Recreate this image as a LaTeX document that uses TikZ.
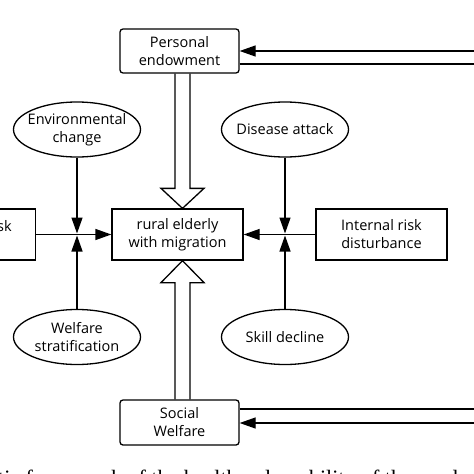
\documentclass[tikz,border=0pt]{standalone}
\usepackage{fontspec}
\newfontfamily\diagfont{Open Sans}
\newfontfamily\capfont{Liberation Serif}
\usetikzlibrary{arrows.meta,shapes.geometric,positioning,calc}
\tikzset{
  box/.style={draw, rectangle, minimum width=131pt, minimum height=51pt,
    align=center, inner sep=2pt},
  rbox/.style={box, rounded corners=3pt, minimum width=119pt, minimum height=44pt},
  oval/.style={draw, ellipse, minimum width=127pt, minimum height=55pt,
    align=center, inner xsep=-6pt, inner ysep=0pt},
  arr/.style={-{Triangle[length=16pt,width=11pt]}},
  hollow/.style={line join=miter}
}
\begin{document}
\begin{tikzpicture}[x=1pt,y=-1pt,line width=1.3pt,
    every node/.style={font=\diagfont\fontsize{14.5}{18}\selectfont}]
            \clip (0,0) rectangle (474,474);
            % boxes
            \node[rbox] (pe) at (179.5,51) {Personal\\endowment};
            \node[rbox, minimum height=45pt] (sw) at (179.5,422.5) {Social\\Welfare};
            \node[box] (ce) at (177.5,234.5) {rural elderly\\with migration};
            \node[box] (er) at (-30,234.5) {External risk\\\mbox{}};
            \node[box] (ir) at (381.5,234.5) {Internal risk\\disturbance};
            % ellipses
            \node[oval] (env) at (77,129.5) {Environmental\\change};
            \node[oval] (dis) at (285,129.5) {Disease attack};
            \node[oval] (wel) at (77,337) {Welfare\\stratification};
            \node[oval] (ski) at (285,337) {Skill decline};
            % junctions
            \coordinate (jl) at (env |- ce);
            \coordinate (jr) at (dis |- ce);
            % risk arrows
            \draw[arr] (er) -- (ce);
            \draw[arr] (ir) -- (ce);
            \draw[arr, shorten >=1pt] (env) -- (jl);
            \draw[arr, shorten >=1pt] (wel) -- (jl);
            \draw[arr, shorten >=1pt] (dis) -- (jr);
            \draw[arr, shorten >=1pt] (ski) -- (jr);
            % hollow arrows
            \coordinate (ta) at ($(ce.north)+(5,0)$);
            \coordinate (tb) at ($(ce.south)+(5,0)$);
            \draw[hollow] ($(pe.south)+(-4.5,0)$) -- ($(ta)+(-7.5,-20)$)
                  -- ($(ta)+(-21.5,-20)$) -- (ta) -- ($(ta)+(21.5,-20)$)
                  -- ($(ta)+(7.5,-20)$) -- ($(pe.south)+(10.5,0)$);
            \draw[hollow] ($(sw.north)+(-4.5,0)$) -- ($(tb)+(-7.5,22)$)
                  -- ($(tb)+(-21.5,22)$) -- (tb) -- ($(tb)+(21.5,22)$)
                  -- ($(tb)+(7.5,22)$) -- ($(sw.north)+(10.5,0)$);
            % feedback lines to the right
            \coordinate (peA) at (490,51);
            \coordinate (peB) at (490,64);
            \coordinate (swA) at (490,409);
            \coordinate (swB) at (490,423);
            \draw[arr] (peA) -- (pe.east |- peA);
            \draw (pe.east |- peB) -- (peB);
            \draw (sw.east |- swA) -- (swA);
            \draw[arr] (swB) -- (sw.east |- swB);
            % caption
            \node[anchor=base west, inner sep=0pt, font=\capfont\fontsize{22}{26}\selectfont]
                  (cap) at (-2.5,485) {tic framework of the health vulnerability of the rural};
\end{tikzpicture}
\end{document}
